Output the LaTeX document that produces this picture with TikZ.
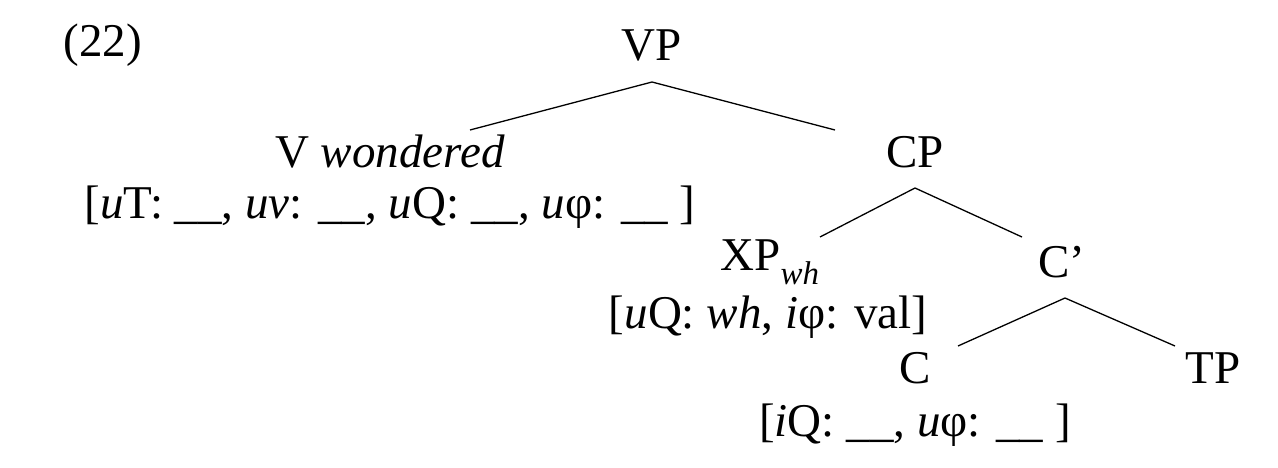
\documentclass[tikz,border=0pt]{standalone}
\usepackage{fontspec}
\setmainfont{Liberation Serif}
\begin{document}
\begin{tikzpicture}[x=1pt,y=-1pt,lbl/.style={inner sep=0pt,anchor=center,font=\fontsize{47}{56}\selectfont},br/.style={line width=1.3pt}]
\useasboundingbox (0,0) rectangle (1278,468);
\node[lbl,anchor=east] (num) at (142,45) {(22)};
\node[lbl] (vp) at (652,45) {VP};
\node[lbl] (v) at (390,152) {V \textit{wondered}};
\node[lbl] (vf) at (390,207) {[\textit{u}T: \_\_, \textit{uv}: \_\_, \textit{u}Q: \_\_, \textit{u}φ: \_\_ ]};
\node[lbl] (cp) at (915,152) {CP};
\node[lbl] (xp) at (770,262) {XP\textsubscript{\textit{wh}}};
\node[lbl] (xf) at (768,317) {[\textit{u}Q: \textit{wh}, \textit{i}φ: val]};
\node[lbl] (cb) at (1062,262) {C’};
\node[lbl] (c) at (915,368) {C};
\node[lbl] (tp) at (1213,368) {TP};
\node[lbl] (cf) at (915,425) {[\textit{i}Q: \_\_, \textit{u}φ: \_\_ ]};
\coordinate (vpb) at (652,82); \coordinate (vt) at (470,130); \coordinate (cpt) at (835,130);
\coordinate (cpb) at (915,188); \coordinate (xt) at (820,237); \coordinate (cbt) at (1022,237);
\coordinate (cbb) at (1065,298); \coordinate (ct) at (958,346); \coordinate (tpt) at (1175,346);
\draw[br] (vt) -- (vpb) -- (cpt);
\draw[br] (xt) -- (cpb) -- (cbt);
\draw[br] (ct) -- (cbb) -- (tpt);
\end{tikzpicture}
\end{document}
